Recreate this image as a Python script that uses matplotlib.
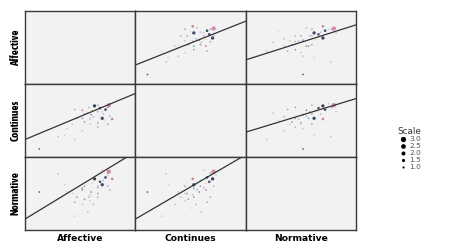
import matplotlib
matplotlib.use("Agg")
import matplotlib.pyplot as plt
from matplotlib import font_manager as fm
import numpy as np

variables = ["Affective", "Continues", "Normative"]

affective = [4.00, 4.16, 4.08, 3.64, 3.64, 3.80, 3.84, 3.92, 4.00, 4.04, 4.00, 3.72,
             3.64, 3.36, 3.36, 3.40, 3.44, 3.52, 3.64, 3.08, 3.16, 3.08, 3.16, 3.08,
             2.88, 2.80, 2.72, 2.80, 2.44, 2.52, 1.52, 3.80, 3.48, 3.28, 3.32, 3.88, 2.20]
continues = [2.80, 3.08, 3.24, 2.64, 2.88, 3.12, 3.36, 3.60, 3.72, 3.84, 3.92, 3.68,
             3.48, 2.80, 3.08, 3.32, 3.56, 3.80, 3.84, 2.44, 2.92, 3.12, 3.36, 3.56,
             3.12, 3.60, 2.80, 1.96, 2.20, 2.56, 1.44, 3.48, 3.20, 3.40, 3.72, 3.00, 2.12]
normative = [3.40, 3.80, 3.20, 2.80, 3.00, 3.48, 3.72, 3.88, 4.12, 4.20, 4.00, 3.64,
             3.32, 2.60, 2.92, 3.08, 3.56, 3.80, 3.40, 2.40, 2.68, 3.28, 3.40, 3.20,
             2.80, 2.52, 3.00, 1.76, 3.48, 3.08, 3.08, 4.28, 2.40, 2.00, 2.80, 2.20, 4.08]
scale = [1.0, 1.5, 1.0, 1.0, 1.0, 2.0, 1.0, 1.5, 1.0, 3.0, 1.0, 1.5,
         1.0, 1.0, 1.0, 1.0, 1.0, 2.0, 1.0, 1.0, 1.0, 1.0, 1.0, 1.0,
         1.0, 1.0, 1.0, 1.0, 1.0, 1.0, 1.0, 1.0, 1.0, 1.0, 1.0, 1.0, 1.0]
point_colors = ["#8fa0cc", "#c87a88", "#a8b3d0", "#d0a0b0", "#8aa2c6", "#2b3558", "#a0bedf",
                "#2a3452", "#7a96c0", "#d67ea4", "#c0c6d6", "#3a4468", "#b4a2cc", "#e6c490",
                "#d2b0be", "#6a8cb8", "#ecd0a0", "#26304c", "#a0b2cc", "#e0b4c2", "#aa88a6",
                "#5aa0ae", "#9a90c0", "#c0707e", "#8494c0", "#98a6c8", "#d2ccb2", "#dcc0cc",
                "#cad2e0", "#c6b8d4", "#4a5480", "#e6b4c8", "#a6b8cc", "#d2b2b8", "#8ab4d0",
                "#e0e0b4", "#c0c0c0"]

# fitted line values (y at x=1 and y at x=5), per (row, col) cell
fit_lines = {(0, 1): (2.04, 4.44), (0, 2): (2.32, 4.24),
             (1, 0): (1.96, 4.48), (1, 2): (2.36, 4.20),
             (2, 0): (1.60, 5.28), (2, 1): (1.60, 5.12)}
scale_levels = [3.0, 2.5, 2.0, 1.5, 1.0]

data = {"Affective": affective, "Continues": continues, "Normative": normative}

def size_of(s):
    return 1.6 + (s - 1.0) * 4.0

# look for a condensed / narrow bold font
narrow_path = None
cands = []
for f in fm.fontManager.ttflist:
    nm = f.name.lower()
    if ("narrow" in nm or "condensed" in nm or f.stretch in ("condensed", "semi-condensed", 500, 375)) \
            and f.weight in ("bold", 700, "heavy"):
        cands.append(f)
if cands:
    cands.sort(key=lambda f: (0 if "liberation" in f.name.lower() else 1, f.name))
    narrow_path = cands[0].fname
narrow_prop = fm.FontProperties(fname=narrow_path, size=8.0) if narrow_path else \
    fm.FontProperties(family="DejaVu Sans", weight="bold", size=6.0)

W, H = 474, 252
fig = plt.figure(figsize=(W / 100, H / 100), dpi=100)
fig.patch.set_facecolor("white")

left, right, top, bottom = 25 / W, 356 / W, 1 - 11 / H, 1 - 230 / H
gs = fig.add_gridspec(3, 3, left=left, right=right, top=top, bottom=bottom,
                      wspace=0, hspace=0)

sizes = [size_of(s) for s in scale]
for r, yv in enumerate(variables):
    for c, xv in enumerate(variables):
        ax = fig.add_subplot(gs[r, c])
        ax.set_facecolor("#f2f2f2")
        ax.set_xlim(1, 5)
        ax.set_ylim(1, 5)
        ax.set_xticks([])
        ax.set_yticks([])
        for sp in ax.spines.values():
            sp.set_color("#3a3a3a")
            sp.set_linewidth(1.0)
        if r != c:
            ax.scatter(data[xv], data[yv], s=sizes, c=point_colors, marker="o",
                       linewidths=0, alpha=0.9, zorder=2)
            y0, y1 = fit_lines[(r, c)]
            ax.plot([1, 5], [y0, y1], color="#333333", lw=0.9, zorder=3)
        if c == 0:
            ax.set_ylabel(yv, fontproperties=narrow_prop, labelpad=3)
        if r == 2:
            ax.set_xlabel(xv, fontsize=6.6, fontweight="bold", family="DejaVu Sans",
                          labelpad=3)

# legend (manual)
lax = fig.add_axes([0, 0, 1, 1])
lax.set_xlim(0, W)
lax.set_ylim(H, 0)
lax.axis("off")
lax.text(409, 131, "Scale", ha="center", va="center", fontsize=6.3, color="#333333")
for i, lv in enumerate(scale_levels):
    yy = 139 + i * 7.1
    lax.scatter([403], [yy], s=size_of(lv) * 1.5, c="black", linewidths=0)
    lax.text(409, yy, f"{lv:.1f}", ha="left", va="center", fontsize=5.3, color="#555555")

fig.savefig("out.png", dpi=100)
